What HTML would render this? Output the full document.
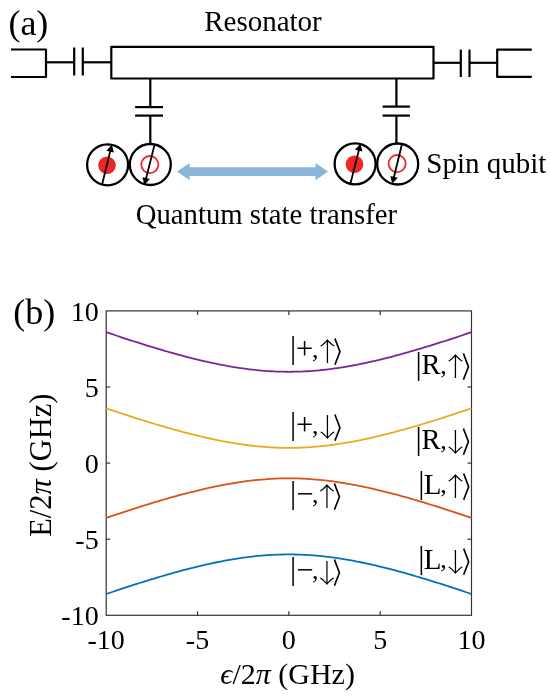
<!DOCTYPE html>
<html><head><meta charset="utf-8">
<style>
html,body{margin:0;padding:0;background:#fff;}
svg{display:block;}
text{font-family:"Liberation Serif","DejaVu Serif",serif;fill:#000;}
.ar{font-family:"Noto Serif CJK SC",serif;font-weight:300;}
.rg{font-family:"Noto Sans CJK SC",sans-serif;font-weight:500;}
</style></head>
<body>
<svg width="550" height="696" viewBox="0 0 550 696">
<rect width="550" height="696" fill="#fff"/>
<!-- (a) circuit -->
<text x="8.4" y="34.5" font-size="36">(a)</text>
<text x="204.2" y="31.2" font-size="29">Resonator</text>
<g fill="none" stroke="#000" stroke-width="2.2" stroke-linejoin="round">
<polyline points="11,49.5 46,49.5 46,77 11,77"/>
<line x1="46" y1="62.3" x2="74.2" y2="62.3"/>
<line x1="74.2" y1="47.5" x2="74.2" y2="75.5"/>
<line x1="82.8" y1="47.5" x2="82.8" y2="75.5"/>
<line x1="82.8" y1="62.3" x2="111.3" y2="62.3"/>
<rect x="111.3" y="46.8" width="322.2" height="31.7"/>
<line x1="433.5" y1="62.8" x2="460.8" y2="62.8"/>
<line x1="460.8" y1="49.6" x2="460.8" y2="77.1"/>
<line x1="469.5" y1="49.6" x2="469.5" y2="77.1"/>
<line x1="469.5" y1="62.8" x2="497.2" y2="62.8"/>
<polyline points="531.8,49.6 497.2,49.6 497.2,76.9 531.8,76.9"/>
<line x1="150.3" y1="78.5" x2="150.3" y2="107.1"/>
<line x1="135.1" y1="107.1" x2="163.0" y2="107.1"/>
<line x1="135.1" y1="115.6" x2="163.0" y2="115.6"/>
<line x1="150.3" y1="115.6" x2="150.3" y2="144"/>
<line x1="396.4" y1="78.5" x2="396.4" y2="106.6"/>
<line x1="382.6" y1="106.6" x2="409.9" y2="106.6"/>
<line x1="382.6" y1="115.6" x2="409.9" y2="115.6"/>
<line x1="396.4" y1="115.6" x2="396.4" y2="143"/>
</g>
<!-- qubits -->
<g fill="none" stroke="#000" stroke-width="2.3">
<circle cx="107.6" cy="164.8" r="20.5"/>
<circle cx="150.3" cy="164.5" r="20.5"/>
<circle cx="355.1" cy="163.9" r="20.5"/>
<circle cx="397.7" cy="164" r="20.5"/>
</g>
<circle cx="107" cy="165.3" r="8.8" fill="#EE2628"/>
<circle cx="354.5" cy="164.2" r="8.8" fill="#EE2628"/>
<circle cx="149.8" cy="164.6" r="8.6" fill="none" stroke="#EE2628" stroke-width="1.8"/>
<circle cx="397.1" cy="163.6" r="8.6" fill="none" stroke="#EE2628" stroke-width="1.8"/>
<line x1="102.30" y1="183.70" x2="110.34" y2="150.62" stroke="#000" stroke-width="1.8"/>
<polygon points="111.80,144.60 113.79,152.49 106.41,150.70" fill="#000"/>
<line x1="154.60" y1="144.60" x2="145.91" y2="179.09" stroke="#000" stroke-width="1.8"/>
<polygon points="144.40,185.10 142.47,177.19 149.84,179.05" fill="#000"/>
<line x1="350.40" y1="183.80" x2="358.99" y2="149.61" stroke="#000" stroke-width="1.8"/>
<polygon points="360.50,143.60 362.43,151.51 355.06,149.66" fill="#000"/>
<line x1="402.00" y1="144.00" x2="393.77" y2="177.78" stroke="#000" stroke-width="1.8"/>
<polygon points="392.30,183.80 390.31,175.90 397.70,177.70" fill="#000"/>
<polygon points="177.1,171.6 189.6,163.1 189.6,167.3 315.5,167.3 315.5,163.1 328,171.6 315.5,180.2 315.5,175.9 189.6,175.9 189.6,180.2" fill="#89B5DA"/>
<text x="426.3" y="172.5" font-size="29">Spin qubit</text>
<text x="135.8" y="223.9" font-size="28.7">Quantum state transfer</text>
<!-- (b) plot -->
<text x="13.2" y="323.9" font-size="36">(b)</text>
<g fill="none" stroke="#333" stroke-width="1.2">
<rect x="106.2" y="310.9" width="365.30" height="304.40" fill="none"/>
<line x1="197.53" y1="615.30" x2="197.53" y2="611.30"/>
<line x1="197.53" y1="310.90" x2="197.53" y2="314.90"/>
<line x1="106.20" y1="539.20" x2="110.20" y2="539.20"/>
<line x1="471.50" y1="539.20" x2="467.50" y2="539.20"/>
<line x1="288.85" y1="615.30" x2="288.85" y2="611.30"/>
<line x1="288.85" y1="310.90" x2="288.85" y2="314.90"/>
<line x1="106.20" y1="463.10" x2="110.20" y2="463.10"/>
<line x1="471.50" y1="463.10" x2="467.50" y2="463.10"/>
<line x1="380.18" y1="615.30" x2="380.18" y2="611.30"/>
<line x1="380.18" y1="310.90" x2="380.18" y2="314.90"/>
<line x1="106.20" y1="387.00" x2="110.20" y2="387.00"/>
<line x1="471.50" y1="387.00" x2="467.50" y2="387.00"/>
</g>
<g>
<polyline points="106.20,332.16 109.24,333.19 112.29,334.22 115.33,335.25 118.38,336.27 121.42,337.28 124.47,338.28 127.51,339.28 130.55,340.27 133.60,341.25 136.64,342.23 139.69,343.20 142.73,344.15 145.77,345.10 148.82,346.05 151.86,346.98 154.91,347.90 157.95,348.81 161.00,349.71 164.04,350.61 167.08,351.49 170.13,352.36 173.17,353.21 176.22,354.06 179.26,354.89 182.30,355.71 185.35,356.51 188.39,357.30 191.44,358.08 194.48,358.84 197.53,359.59 200.57,360.32 203.61,361.03 206.66,361.72 209.70,362.40 212.75,363.06 215.79,363.70 218.83,364.32 221.88,364.91 224.92,365.49 227.97,366.05 231.01,366.58 234.06,367.09 237.10,367.58 240.14,368.05 243.19,368.48 246.23,368.90 249.28,369.29 252.32,369.65 255.36,369.98 258.41,370.29 261.45,370.57 264.50,370.82 267.54,371.05 270.59,371.24 273.63,371.40 276.67,371.54 279.72,371.64 282.76,371.72 285.81,371.76 288.85,371.78 291.89,371.76 294.94,371.72 297.98,371.64 301.03,371.54 304.07,371.40 307.12,371.24 310.16,371.05 313.20,370.82 316.25,370.57 319.29,370.29 322.34,369.98 325.38,369.65 328.42,369.29 331.47,368.90 334.51,368.48 337.56,368.05 340.60,367.58 343.65,367.09 346.69,366.58 349.73,366.05 352.78,365.49 355.82,364.91 358.87,364.32 361.91,363.70 364.95,363.06 368.00,362.40 371.04,361.72 374.09,361.03 377.13,360.32 380.18,359.59 383.22,358.84 386.26,358.08 389.31,357.30 392.35,356.51 395.40,355.71 398.44,354.89 401.48,354.06 404.53,353.21 407.57,352.36 410.62,351.49 413.66,350.61 416.70,349.71 419.75,348.81 422.79,347.90 425.84,346.98 428.88,346.05 431.93,345.10 434.97,344.15 438.01,343.20 441.06,342.23 444.10,341.25 447.15,340.27 450.19,339.28 453.23,338.28 456.28,337.28 459.32,336.27 462.37,335.25 465.41,334.22 468.46,333.19 471.50,332.16" fill="none" stroke="#7B2696" stroke-width="1.8" stroke-linejoin="round"/>
<polyline points="106.20,408.26 109.24,409.29 112.29,410.32 115.33,411.35 118.38,412.37 121.42,413.38 124.47,414.38 127.51,415.38 130.55,416.37 133.60,417.35 136.64,418.33 139.69,419.30 142.73,420.25 145.77,421.20 148.82,422.15 151.86,423.08 154.91,424.00 157.95,424.91 161.00,425.81 164.04,426.71 167.08,427.59 170.13,428.46 173.17,429.31 176.22,430.16 179.26,430.99 182.30,431.81 185.35,432.61 188.39,433.40 191.44,434.18 194.48,434.94 197.53,435.69 200.57,436.42 203.61,437.13 206.66,437.82 209.70,438.50 212.75,439.16 215.79,439.80 218.83,440.42 221.88,441.01 224.92,441.59 227.97,442.15 231.01,442.68 234.06,443.19 237.10,443.68 240.14,444.15 243.19,444.58 246.23,445.00 249.28,445.39 252.32,445.75 255.36,446.08 258.41,446.39 261.45,446.67 264.50,446.92 267.54,447.15 270.59,447.34 273.63,447.50 276.67,447.64 279.72,447.74 282.76,447.82 285.81,447.86 288.85,447.88 291.89,447.86 294.94,447.82 297.98,447.74 301.03,447.64 304.07,447.50 307.12,447.34 310.16,447.15 313.20,446.92 316.25,446.67 319.29,446.39 322.34,446.08 325.38,445.75 328.42,445.39 331.47,445.00 334.51,444.58 337.56,444.15 340.60,443.68 343.65,443.19 346.69,442.68 349.73,442.15 352.78,441.59 355.82,441.01 358.87,440.42 361.91,439.80 364.95,439.16 368.00,438.50 371.04,437.82 374.09,437.13 377.13,436.42 380.18,435.69 383.22,434.94 386.26,434.18 389.31,433.40 392.35,432.61 395.40,431.81 398.44,430.99 401.48,430.16 404.53,429.31 407.57,428.46 410.62,427.59 413.66,426.71 416.70,425.81 419.75,424.91 422.79,424.00 425.84,423.08 428.88,422.15 431.93,421.20 434.97,420.25 438.01,419.30 441.06,418.33 444.10,417.35 447.15,416.37 450.19,415.38 453.23,414.38 456.28,413.38 459.32,412.37 462.37,411.35 465.41,410.32 468.46,409.29 471.50,408.26" fill="none" stroke="#EAAB22" stroke-width="1.8" stroke-linejoin="round"/>
<polyline points="106.20,517.94 109.24,516.91 112.29,515.88 115.33,514.85 118.38,513.83 121.42,512.82 124.47,511.82 127.51,510.82 130.55,509.83 133.60,508.85 136.64,507.87 139.69,506.90 142.73,505.95 145.77,505.00 148.82,504.05 151.86,503.12 154.91,502.20 157.95,501.29 161.00,500.39 164.04,499.49 167.08,498.61 170.13,497.74 173.17,496.89 176.22,496.04 179.26,495.21 182.30,494.39 185.35,493.59 188.39,492.80 191.44,492.02 194.48,491.26 197.53,490.51 200.57,489.78 203.61,489.07 206.66,488.38 209.70,487.70 212.75,487.04 215.79,486.40 218.83,485.78 221.88,485.19 224.92,484.61 227.97,484.05 231.01,483.52 234.06,483.01 237.10,482.52 240.14,482.05 243.19,481.62 246.23,481.20 249.28,480.81 252.32,480.45 255.36,480.12 258.41,479.81 261.45,479.53 264.50,479.28 267.54,479.05 270.59,478.86 273.63,478.70 276.67,478.56 279.72,478.46 282.76,478.38 285.81,478.34 288.85,478.32 291.89,478.34 294.94,478.38 297.98,478.46 301.03,478.56 304.07,478.70 307.12,478.86 310.16,479.05 313.20,479.28 316.25,479.53 319.29,479.81 322.34,480.12 325.38,480.45 328.42,480.81 331.47,481.20 334.51,481.62 337.56,482.05 340.60,482.52 343.65,483.01 346.69,483.52 349.73,484.05 352.78,484.61 355.82,485.19 358.87,485.78 361.91,486.40 364.95,487.04 368.00,487.70 371.04,488.38 374.09,489.07 377.13,489.78 380.18,490.51 383.22,491.26 386.26,492.02 389.31,492.80 392.35,493.59 395.40,494.39 398.44,495.21 401.48,496.04 404.53,496.89 407.57,497.74 410.62,498.61 413.66,499.49 416.70,500.39 419.75,501.29 422.79,502.20 425.84,503.12 428.88,504.05 431.93,505.00 434.97,505.95 438.01,506.90 441.06,507.87 444.10,508.85 447.15,509.83 450.19,510.82 453.23,511.82 456.28,512.82 459.32,513.83 462.37,514.85 465.41,515.88 468.46,516.91 471.50,517.94" fill="none" stroke="#D95319" stroke-width="1.8" stroke-linejoin="round"/>
<polyline points="106.20,594.04 109.24,593.01 112.29,591.98 115.33,590.95 118.38,589.93 121.42,588.92 124.47,587.92 127.51,586.92 130.55,585.93 133.60,584.95 136.64,583.97 139.69,583.00 142.73,582.05 145.77,581.10 148.82,580.15 151.86,579.22 154.91,578.30 157.95,577.39 161.00,576.49 164.04,575.59 167.08,574.71 170.13,573.84 173.17,572.99 176.22,572.14 179.26,571.31 182.30,570.49 185.35,569.69 188.39,568.90 191.44,568.12 194.48,567.36 197.53,566.61 200.57,565.88 203.61,565.17 206.66,564.48 209.70,563.80 212.75,563.14 215.79,562.50 218.83,561.88 221.88,561.29 224.92,560.71 227.97,560.15 231.01,559.62 234.06,559.11 237.10,558.62 240.14,558.15 243.19,557.72 246.23,557.30 249.28,556.91 252.32,556.55 255.36,556.22 258.41,555.91 261.45,555.63 264.50,555.38 267.54,555.15 270.59,554.96 273.63,554.80 276.67,554.66 279.72,554.56 282.76,554.48 285.81,554.44 288.85,554.42 291.89,554.44 294.94,554.48 297.98,554.56 301.03,554.66 304.07,554.80 307.12,554.96 310.16,555.15 313.20,555.38 316.25,555.63 319.29,555.91 322.34,556.22 325.38,556.55 328.42,556.91 331.47,557.30 334.51,557.72 337.56,558.15 340.60,558.62 343.65,559.11 346.69,559.62 349.73,560.15 352.78,560.71 355.82,561.29 358.87,561.88 361.91,562.50 364.95,563.14 368.00,563.80 371.04,564.48 374.09,565.17 377.13,565.88 380.18,566.61 383.22,567.36 386.26,568.12 389.31,568.90 392.35,569.69 395.40,570.49 398.44,571.31 401.48,572.14 404.53,572.99 407.57,573.84 410.62,574.71 413.66,575.59 416.70,576.49 419.75,577.39 422.79,578.30 425.84,579.22 428.88,580.15 431.93,581.10 434.97,582.05 438.01,583.00 441.06,583.97 444.10,584.95 447.15,585.93 450.19,586.92 453.23,587.92 456.28,588.92 459.32,589.93 462.37,590.95 465.41,591.98 468.46,593.01 471.50,594.04" fill="none" stroke="#0072BD" stroke-width="1.8" stroke-linejoin="round"/>
</g>
<g font-size="28">
<text x="98.7" y="320.70" text-anchor="end">10</text>
<text x="98.7" y="396.80" text-anchor="end">5</text>
<text x="98.7" y="472.90" text-anchor="end">0</text>
<text x="98.7" y="549.00" text-anchor="end">-5</text>
<text x="98.7" y="625.10" text-anchor="end">-10</text>
<text x="106.20" y="649" text-anchor="middle">-10</text>
<text x="197.53" y="649" text-anchor="middle">-5</text>
<text x="288.85" y="649" text-anchor="middle">0</text>
<text x="380.18" y="649" text-anchor="middle">5</text>
<text x="471.50" y="649" text-anchor="middle">10</text>
</g>
<text font-size="30.5" transform="translate(51,465.2) rotate(-90)" text-anchor="middle">E/2<tspan font-style="italic">π</tspan> (GHz)</text>
<text x="287.6" y="684" font-size="30" text-anchor="middle"><tspan font-style="italic">ϵ</tspan>/2<tspan font-style="italic">π</tspan> (GHz)</text>
<g>
<text x="290.1" y="358.2" font-size="31" fill="#1a1a1a">|</text>
<text x="296.0" y="358.5" font-size="30.5">+</text>
<text x="312.1" y="358.0" font-size="26">,</text>
<text transform="translate(312.4,360.7) scale(1.15,1)" font-size="26" class="ar">↑</text>
<text transform="translate(333.2,362.5) scale(0.64,1.04)" font-size="28" class="rg">〉</text>
<text x="290.1" y="434.2" font-size="31" fill="#1a1a1a">|</text>
<text x="296.0" y="434.5" font-size="30.5">+</text>
<text x="312.1" y="434.0" font-size="26">,</text>
<text transform="translate(312.4,437.4) scale(1.15,1)" font-size="26" class="ar">↓</text>
<text transform="translate(333.2,438.5) scale(0.64,1.04)" font-size="28" class="rg">〉</text>
<text x="290.1" y="503.2" font-size="31" fill="#1a1a1a">|</text>
<text x="296.2" y="503.5" font-size="30.5">−</text>
<text x="312.1" y="503.0" font-size="26">,</text>
<text transform="translate(311.9,505.7) scale(1.15,1)" font-size="26" class="ar">↑</text>
<text transform="translate(332.7,507.5) scale(0.64,1.04)" font-size="28" class="rg">〉</text>
<text x="290.1" y="579.3" font-size="31" fill="#1a1a1a">|</text>
<text x="296.2" y="579.6" font-size="30.5">−</text>
<text x="312.1" y="579.1" font-size="26">,</text>
<text transform="translate(311.9,582.5) scale(1.15,1)" font-size="26" class="ar">↓</text>
<text transform="translate(332.7,583.6) scale(0.64,1.04)" font-size="28" class="rg">〉</text>
<text x="415.5" y="373.9" font-size="31" fill="#1a1a1a">|</text>
<text x="421.6" y="374.2" font-size="28.5">R</text>
<text x="440.3" y="373.7" font-size="26">,</text>
<text transform="translate(440.4,376.4) scale(1.15,1)" font-size="26" class="ar">↑</text>
<text transform="translate(461.8,378.2) scale(0.64,1.04)" font-size="28" class="rg">〉</text>
<text x="415.5" y="449.0" font-size="31" fill="#1a1a1a">|</text>
<text x="421.6" y="449.3" font-size="28.5">R</text>
<text x="440.3" y="448.8" font-size="26">,</text>
<text transform="translate(440.5,452.2) scale(1.15,1)" font-size="26" class="ar">↓</text>
<text transform="translate(461.8,453.3) scale(0.64,1.04)" font-size="28" class="rg">〉</text>
<text x="418.2" y="493.2" font-size="31" fill="#1a1a1a">|</text>
<text x="423.8" y="493.5" font-size="29">L</text>
<text x="440.3" y="493.0" font-size="26">,</text>
<text transform="translate(440.5,495.7) scale(1.15,1)" font-size="26" class="ar">↑</text>
<text transform="translate(462.0,497.5) scale(0.64,1.04)" font-size="28" class="rg">〉</text>
<text x="418.2" y="568.3" font-size="31" fill="#1a1a1a">|</text>
<text x="423.8" y="568.6" font-size="29">L</text>
<text x="440.3" y="568.1" font-size="26">,</text>
<text transform="translate(440.5,571.5) scale(1.15,1)" font-size="26" class="ar">↓</text>
<text transform="translate(462.0,572.6) scale(0.64,1.04)" font-size="28" class="rg">〉</text>
</g>
</svg>
</body></html>
